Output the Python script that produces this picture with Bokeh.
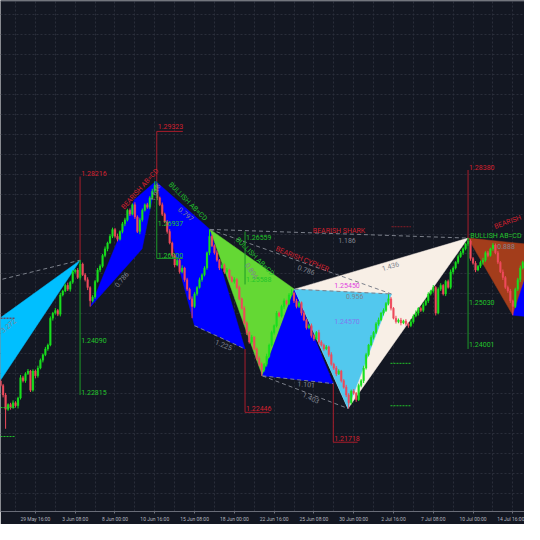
from bokeh.plotting import figure
from bokeh.models import Range1d, FixedTicker, Span, Grid, ColumnDataSource
from bokeh.core.properties import value
from bokeh.embed import file_html
from bokeh.resources import INLINE

FONT = "Roboto"
BG = "#131722"
RED = "#d4202e"
GREEN = "#22c42a"
GRAY = "#80848f"

# ---- time axis (4H bars, index 0 = 29 May 16:00) ----
tick_bars = [-16, 0, 16, 32, 48, 64, 80, 96, 112, 128, 144, 160, 176, 192]
tick_labels = ["27 May 00:00", "29 May 16:00", "3 Jun 08:00", "8 Jun 00:00",
               "10 Jun 16:00", "15 Jun 08:00", "18 Jun 00:00", "22 Jun 16:00",
               "25 Jun 08:00", "30 Jun 00:00", "2 Jul 16:00", "7 Jul 08:00",
               "10 Jul 00:00", "14 Jul 16:00"]

# ---- candles: closes in pips above 1.2000, first bar index -14 ----
first_bar = -14
first_open = 265
closes = [250, 218, 170, 186, 176, 192, 182, 208, 276, 266,
          289, 298, 234, 298, 282, 308, 334, 353, 372, 385,
          475, 492, 501, 488, 553, 566, 585, 572, 595, 630,
          636, 611, 656, 620, 604, 578, 533, 546, 598, 636,
          649, 685, 707, 727, 749, 772, 749, 739, 765, 791,
          804, 836, 823, 855, 814, 765, 804, 836, 855, 846,
          878, 900, 920, 878, 855, 823, 797, 765, 727, 685,
          653, 669, 630, 643, 604, 572, 540, 514, 556, 578,
          604, 620, 643, 694, 749, 717, 694, 669, 643, 653,
          630, 636, 611, 598, 604, 578, 540, 508, 459, 427,
          395, 411, 372, 340, 321, 302, 321, 347, 385, 427,
          450, 492, 482, 514, 533, 524, 553, 559, 533, 514,
          527, 492, 469, 443, 450, 417, 405, 427, 395, 385,
          372, 379, 353, 321, 308, 289, 298, 266, 244, 218,
          192, 231, 224, 202, 250, 266, 308, 353, 385, 411,
          427, 456, 469, 492, 501, 524, 540, 508, 475, 463,
          469, 459, 466, 456, 450, 463, 482, 492, 508, 501,
          520, 533, 556, 566, 578, 492, 572, 585, 556, 598,
          578, 630, 643, 662, 681, 694, 707, 723, 733, 675,
          659, 636, 649, 662, 669, 694, 685, 707, 720, 694,
          662, 630, 611, 578, 566, 533, 514, 572, 604, 643,
          662]
wick_up = [6, 5, 7, 4, 6, 8, 5, 4, 9, 6,
           5, 7, 4, 6, 5, 8, 6, 4, 7, 5,
           6, 4, 8, 5, 7, 4, 6, 9, 5, 6,
           4, 7, 13, 5, 6, 8, 4, 6, 5, 7,
           6, 5, 8, 4, 7, 6, 5, 9, 4, 6,
           7, 5, 6, 4, 8, 5, 7, 6, 4, 6,
           5, 8, 13, 6, 4, 7, 5, 6, 8, 4,
           6, 5, 7, 9, 4, 6, 5, 8, 6, 4,
           7, 5, 6, 4, 23, 6, 5, 8, 4, 6,
           5, 7, 4, 6, 8, 5, 6, 4, 7, 5,
           6, 8, 4, 5, 7, 6, 4, 9, 5, 6,
           4, 7, 5, 6, 8, 4, 6, 13, 5, 7,
           6, 4, 8, 5, 6, 7, 4, 5, 9, 6,
           5, 6, 4, 8, 5, 7, 6, 4, 5, 8,
           6, 5, 7, 4, 6, 5, 8, 6, 4, 7,
           5, 6, 8, 4, 7, 5, 16, 6, 4, 8,
           5, 7, 4, 6, 5, 8, 6, 9, 4, 6,
           7, 5, 6, 4, 8, 5, 6, 7, 4, 5,
           6, 8, 5, 4, 7, 6, 5, 4, 10, 6,
           5, 7, 4, 6, 8, 5, 6, 4, 7, 5,
           6, 4, 8, 5, 6, 7, 4, 5, 6, 8,
           5]
wick_lo = [6, 8, 65, 5, 7, 4, 6, 9, 5, 6,
           7, 4, 6, 5, 8, 6, 4, 7, 5, 6,
           4, 8, 5, 6, 7, 5, 4, 6, 8, 5,
           6, 5, 7, 4, 6, 9, 19, 5, 6, 4,
           7, 5, 6, 8, 4, 6, 5, 7, 4, 6,
           8, 5, 6, 4, 7, 5, 9, 6, 4, 5,
           6, 7, 4, 8, 5, 6, 4, 7, 5, 6,
           8, 4, 6, 5, 7, 6, 4, 39, 5, 6,
           4, 7, 5, 6, 8, 4, 6, 5, 7, 4,
           6, 5, 8, 4, 7, 6, 5, 4, 6, 8,
           5, 6, 4, 6, 7, 20, 6, 8, 4, 5,
           7, 6, 4, 5, 8, 6, 5, 4, 7, 6,
           5, 8, 4, 6, 5, 7, 6, 4, 8, 5,
           6, 4, 7, 5, 6, 8, 4, 6, 5, 7,
           19, 6, 5, 7, 4, 6, 8, 5, 6, 4,
           7, 5, 6, 4, 8, 5, 6, 7, 4, 6,
           5, 8, 4, 6, 7, 5, 6, 4, 8, 5,
           6, 4, 7, 5, 6, 8, 4, 6, 5, 7,
           4, 6, 8, 5, 6, 4, 7, 5, 6, 8,
           5, 7, 4, 6, 8, 5, 6, 4, 7, 5,
           6, 4, 8, 5, 6, 7, 29, 5, 6, 8,
           5]

# ---- harmonic pattern polygons (bar index, pips) ----
cyan_x = [-18, 18, -18];            cyan_y = [453, 669, 218]
blue1_x = [22.2, 39.8, 48.4, 42.9]; blue1_y = [514, 871, 933, 707]
blue2_x = [48.4, 70.2, 84.3, 64.0]; blue2_y = [933, 772, 372, 450]
green_x = [70.2, 104.2, 91.3];      green_y = [772, 572, 282]
blue3_x = [91.3, 104.2, 119.8];     blue3_y = [282, 572, 256]
cream_x = [104.2, 174.0, 125.7];    cream_y = [572, 743, 173]
sky_x = [104.2, 143.2, 125.7];      sky_y = [572, 556, 173]
brown_x = [174.0, 204.5, 192.0];    brown_y = [743, 717, 485]
blue4_x = [192.0, 200.6, 204.5];    blue4_y = [485, 701, 475]

# ratio (dashed) lines
dash_x0 = [-16, 70.2, 70.2, 64.0, 91.3, 91.3, 104.2]
dash_y0 = [600, 772, 772, 450, 282, 282, 572]
dash_x1 = [18, 174.0, 143.2, 84.3, 119.8, 125.7, 143.2]
dash_y1 = [669, 743, 556, 372, 256, 173, 556]

# price marker lines
red_vx = [17.95, 48.8, 174.0, 84.3, 119.8]
red_vy0 = [949, 1100, 971, 372, 256]
red_vy1 = [669, 933, 743, 160, 60]
red_ux0 = [48.8, 84.3, 119.8]
red_ux1 = [59.3, 94.1, 129.6]
red_uy = [1100, 160, 60]
grn_vx = [17.95, 48.8, 84.3, 174.0]
grn_vy0 = [669, 933, 765, 743]
grn_vy1 = [218, 675, 588, 372]

price_txt = ["1.28216", "1.29323", "1.28380", "1.22446", "1.21718",
             "1.24090", "1.22815", "1.26937", "1.26200", "1.26559",
             "1.25588", "1.25030", "1.24001", "1.25450", "1.24570"]
price_x = [18.4, 49.2, 174.4, 84.7, 120.2,
           18.4, 18.4, 49.2, 49.2, 84.7,
           84.7, 174.4, 174.4, 120.2, 120.2]
price_y = [958, 1116, 978, 173, 73,
           401, 227, 791, 685, 746,
           604, 527, 388, 585, 463]
price_col = [RED] * 5 + [GREEN] * 8 + ["#e040e0", "#8078f0"]

name_txt = ["BEARISH AB=CD", "BULLISH AB=CD", "BULLISH AB=CD",
            "BEARISH CYPHER", "BEARISH SHARK", "BULLISH AB=CD", "BEARISH"]
name_x = [42.1, 61.3, 88.2, 107.3, 122.1, 185.2, 190.0]
name_y = [907, 865, 681, 672, 768, 749, 796]
name_ang = [48, -45, -45, -22, 0, 0, 20]
name_col = [RED, GREEN, GREEN, RED, RED, GREEN, RED]

ratio_txt = ["3.272", "0.786", "1.618", "0.797", "1.225", "0.896", "0.786",
             "1.186", "1.436", "0.956", "1.101", "1.403", "0.888"]
ratio_x = [-10.9, 34.7, 48.2, 60.5, 75.7, 87.0, 108.9,
           125.3, 142.8, 128.4, 108.9, 110.8, 189.3]
ratio_y = [450, 604, 895, 823, 385, 633, 636,
           736, 649, 546, 253, 208, 714]
ratio_ang = [40, 50, 70, -40, -22, -55, -20, 0, 17, 0, -5, -25, 0]

# small horizontal level marks (bar range, pips)
lvl_x0 = [-14.05, 143.2, -14.05, -14.05, 142.8, 142.8]
lvl_x1 = [-8.2, 151.0, -8.2, -8.2, 151.0, 151.0]
lvl_y = [475, 781, 176, 79, 324, 182]
lvl_col = ["#8b1c26", "#8b1c26", GREEN, GREEN, GREEN, GREEN]


def pr(v):
    return 1.2 + v / 10000.0


p = figure(width=524, height=524, x_range=Range1d(-14.05, 196.7),
           y_range=Range1d(1.18282, 1.3538), y_axis_location=None,
           output_backend="svg", toolbar_location=None, min_border=0,
           background_fill_color=BG, border_fill_color=BG, outline_line_color=None)

# grids
p.xgrid.ticker = FixedTicker(ticks=list(range(-16, 208, 8)))
hgrid = [pr(1489.7 - 66.65 * k) for k in range(0, 27)]
if len(p.ygrid) == 0:
    p.add_layout(Grid(dimension=1, ticker=FixedTicker(ticks=hgrid)))
else:
    p.ygrid.ticker = FixedTicker(ticks=hgrid)
for g in p.grid:
    g.grid_line_color = "#2a2e3a"
    g.grid_line_dash = "2 2"
    g.grid_line_width = 1

ax = p.xaxis[0]
ax.ticker = FixedTicker(ticks=tick_bars)
ax.major_label_overrides = {b: l for b, l in zip(tick_bars, tick_labels)}
ax.major_label_text_align = "left"
ax.major_label_text_font = FONT
ax.major_label_text_font_size = "5px"
ax.major_label_text_color = "#b2b5be"
ax.axis_line_color = "#6a6d78"
ax.major_tick_line_color = "#6a6d78"
ax.major_tick_out = 2
ax.major_tick_in = 0
ax.minor_tick_line_color = None
ax.major_label_standoff = 2

p.add_layout(Span(location=1.3538, dimension="width", line_color="#5d606b", line_width=2))

# polygons
for xs, ys, col in [(cyan_x, cyan_y, "#00bfff"), (blue1_x, blue1_y, "#0000ff"),
                    (blue2_x, blue2_y, "#0000ff"), (green_x, green_y, "#64d834"),
                    (blue3_x, blue3_y, "#0000ff"), (cream_x, cream_y, "#f8efe6"),
                    (sky_x, sky_y, "#52c8ee"), (brown_x, brown_y, "#a33d1b"),
                    (blue4_x, blue4_y, "#0000ff")]:
    p.patch(xs, [pr(v) for v in ys], fill_color=col, line_color=col, line_width=0.5)

# candles
bars, o, c, h, l, colr = [], [], [], [], [], []
prev = first_open
for i, cl in enumerate(closes):
    bars.append(first_bar + i)
    o.append(pr(prev))
    c.append(pr(cl))
    h.append(pr(max(prev, cl) + wick_up[i]))
    l.append(pr(min(prev, cl) - wick_lo[i]))
    colr.append("#19e01e" if cl >= prev else "#ee4a5c")
    prev = cl
src = ColumnDataSource(dict(x=bars, o=o, c=c, h=h, l=l, col=colr,
                            top=[max(a, b) for a, b in zip(o, c)],
                            bot=[min(a, b) for a, b in zip(o, c)]))
p.segment("x", "h", "x", "l", source=src, line_color="col", line_width=1)
p.vbar(x="x", width=0.72, top="top", bottom="bot", source=src,
       fill_color="col", line_color="col", line_width=0.3)

# dashed ratio lines
p.segment(dash_x0, [pr(v) for v in dash_y0], dash_x1, [pr(v) for v in dash_y1],
          line_color="#7c808b", line_width=1, line_dash="4 3")

# price marker lines
p.segment(red_vx, [pr(v) for v in red_vy0], red_vx, [pr(v) for v in red_vy1],
          line_color="#a81d2b", line_width=1)
p.segment(red_ux0, [pr(v) for v in red_uy], red_ux1, [pr(v) for v in red_uy],
          line_color="#a81d2b", line_width=1)
p.segment(grn_vx, [pr(v) for v in grn_vy0], grn_vx, [pr(v) for v in grn_vy1],
          line_color="#1d9a28", line_width=1)
p.segment([48.8], [pr(675)], [59.3], [pr(675)], line_color="#1d9a28", line_width=1)
p.segment(lvl_x0, [pr(v) for v in lvl_y], lvl_x1, [pr(v) for v in lvl_y],
          line_color=lvl_col, line_width=1, line_dash="2 1")

# texts
p.text(price_x, [pr(v) for v in price_y], text=price_txt, text_color=price_col,
       text_font=value(FONT), text_font_size=value("7px"),
       text_align="left", text_baseline="middle")
p.text(name_x, [pr(v) for v in name_y], text=name_txt, text_color=name_col,
       angle=name_ang, angle_units="deg",
       text_font=value(FONT), text_font_size=value("7px"),
       text_align="center", text_baseline="middle")
p.text(ratio_x, [pr(v) for v in ratio_y], text=ratio_txt, text_color=GRAY,
       angle=ratio_ang, angle_units="deg",
       text_font=value(FONT), text_font_size=value("7px"),
       text_align="center", text_baseline="middle")

open("out.html", "w").write(file_html(p, INLINE))
